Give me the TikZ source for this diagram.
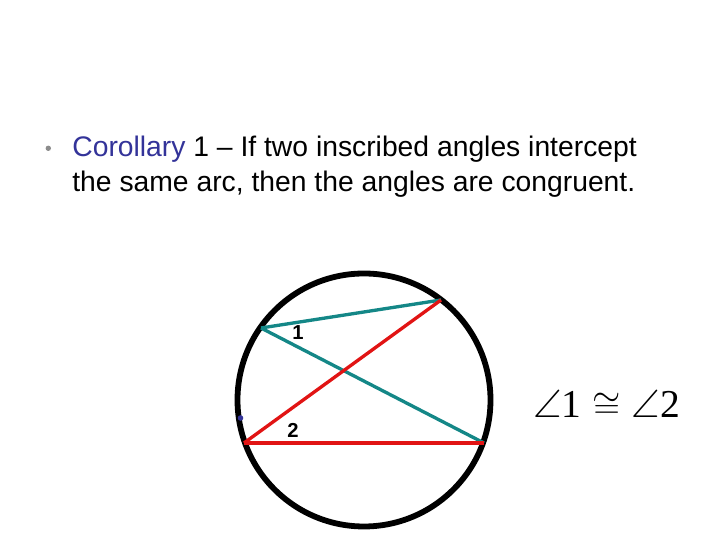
\documentclass[tikz,border=0pt]{standalone}
\usepackage{fontspec}
\setmainfont{Liberation Sans}
\newfontfamily\timesfont{Liberation Serif}
\usepackage{amsmath,amssymb}
\usepackage{tikz}
\usetikzlibrary{calc}
\definecolor{corblue}{RGB}{51,51,153}
\definecolor{chordteal}{RGB}{20,135,135}
\definecolor{chordred}{RGB}{225,20,20}

\begin{document}
\begin{tikzpicture}[
x=0.02cm, y=-0.02cm,
BodyText/.style={anchor=base west, inner sep=0pt, font=\fontsize{16.1}{20}\selectfont},
TealChord/.style={draw=chordteal, line width=1.9pt},
RedChord/.style={draw=chordred, line width=1.9pt},
AngleLabel/.style={font=\fontsize{11.5}{13}\selectfont\bfseries, inner sep=0pt}
]
\useasboundingbox (0,0) rectangle (728,546);

% bullet text
\fill[gray!90] (48.3,148.3) circle (2.7);
\node[BodyText] (line1) at (72,156.7) {\textcolor{corblue}{Corollary} 1 -- If two inscribed angles intercept};
\node[BodyText] (line2) at (72,191.5) {the same arc, then the angles are congruent.};

% circle and points on it
\coordinate (O) at (364,400);
\coordinate (A) at (261,328);
\coordinate (B) at (441,300);
\coordinate (C) at (244,443);
\coordinate (D) at (484,443);

\draw[line width=3.3pt] (O) circle (126.5);

\draw[TealChord] (A)--(B);
\draw[TealChord] (A)--(D);
\draw[RedChord] (C)--(B);
\draw[RedChord] (C)--(D);

\fill[corblue] (240.5,418) circle (2.8);

\node[AngleLabel] (one) at (298,333) {1};
\node[AngleLabel] (two) at (293,430) {2};

\node[inner sep=0pt, anchor=base west, font=\timesfont\fontsize{22.5}{26}\selectfont] (cong) at (533,418)
  {$\angle$1\;$\cong$\;$\angle$2};

\end{tikzpicture}
\end{document}
